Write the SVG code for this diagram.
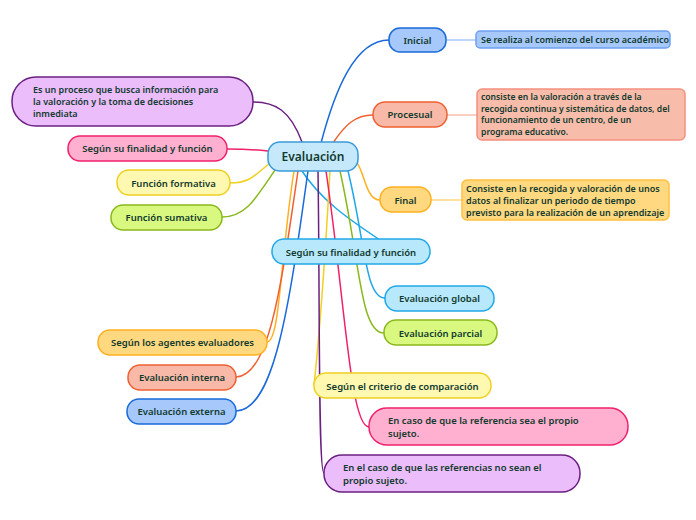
<svg xmlns="http://www.w3.org/2000/svg" width="696" height="520" viewBox="0 0 696 520">
<style>
text{font-family:"Noto Sans","Open Sans",sans-serif;font-size:9.5px;font-weight:600;fill:#113a2e}
.c{text-anchor:middle}
path{fill:none;stroke-width:1.5}
.n rect{stroke-width:1.5}
.blue{fill:#a6c8fb;stroke:#1a6ad9}
.org{fill:#f8b9a8;stroke:#f06030}
.yel{fill:#ffd880;stroke:#ffb020}
.pur{fill:#ebbdfb;stroke:#6a2080}
.pink{fill:#ffb0d0;stroke:#f0206a}
.lyel{fill:#fff8b0;stroke:#f0d020}
.grn{fill:#d8f880;stroke:#8ab81c}
.cy{fill:#b8e8fb;stroke:#20a8e8}
</style>
<g id="connectors">
<path d="M321,143 C335,90 355,40 389,40" stroke="#1a6ad9"/>
<path d="M446,40 H476" stroke="#a6c8fb" stroke-width="3"/>
<path d="M333,143 C345,125 355,115 373,115" stroke="#f06030"/>
<path d="M447,115 H477" stroke="#f8c0b0" stroke-width="3"/>
<path d="M355,160 C365,170 365,200 380,200" stroke="#ffb020"/>
<path d="M431,200 H462" stroke="#ffd880" stroke-width="3"/>
<path d="M302,142 C290,110 275,102 253,102" stroke="#6a2080"/>
<path d="M268,151 C250,149 240,149 227,149" stroke="#f0206a"/>
<path d="M270,163 C255,175 250,183 230,183" stroke="#f0d020"/>
<path d="M275,170 C255,200 245,217 222,217" stroke="#8ab81c"/>
<path d="M300,168 C320,200 350,220 380,240" stroke="#20a8e8"/>
<path d="M348,171 C365,240 365,298 385,298" stroke="#20a8e8"/>
<path d="M340,171 C360,260 360,333 384,333" stroke="#8ab81c"/>
<path d="M294,171 C280,260 280,342 267,342" stroke="#ffb020"/>
<path d="M298,171 C282,280 270,377 236,377" stroke="#f06030"/>
<path d="M308,171 C290,300 275,411 236,411" stroke="#1a6ad9"/>
<path d="M330,171 C325,260 320,330 314,385" stroke="#f0d020"/>
<path d="M326,171 C345,300 350,427 369,427" stroke="#f0206a"/>
<path d="M318,171 C320,300 318,473 324,473" stroke="#6a2080"/>
</g>
<g id="evaluacion" class="n"><rect x="268" y="142" width="90" height="29" rx="12" fill="#c5e9fb" stroke="#3a9ad9"/><text x="313" y="161" class="c" style="font-size:12px">Evaluación</text></g>
<g id="inicial" class="n"><rect x="389" y="28" width="57" height="24" rx="11" class="blue"/><text x="417.5" y="44" class="c">Inicial</text></g>
<g id="inicial-d" class="n"><rect x="476" y="31" width="194" height="17" rx="4" fill="#a6c8fb" stroke="#6fa0f0" stroke-width="1"/><text x="481" y="43" style="font-size:9px">Se realiza al comienzo del curso académico</text></g>
<g id="procesual" class="n"><rect x="373" y="102" width="74" height="25" rx="12" class="org"/><text x="410" y="118" class="c">Procesual</text></g>
<g id="procesual-d" class="n"><rect x="477" y="89" width="208" height="51" rx="5" fill="#f8bcaa" stroke="#f59080" stroke-width="1"/><text style="font-size:8.6px"><tspan x="481" y="100">consiste en la valoración a través de la</tspan><tspan x="481" y="111.5">recogida continua y sistemática de datos, del</tspan><tspan x="481" y="123">funcionamiento de un centro, de un</tspan><tspan x="481" y="134.5">programa educativo.</tspan></text></g>
<g id="final" class="n"><rect x="380" y="187" width="51" height="25" rx="12" class="yel"/><text x="405.5" y="204" class="c">Final</text></g>
<g id="final-d" class="n"><rect x="462" y="180" width="207" height="40" rx="5" fill="#ffd880" stroke="#ffc040" stroke-width="1"/><text style="font-size:9px"><tspan x="466" y="192">Consiste en la recogida y valoración de unos</tspan><tspan x="466" y="204">datos al finalizar un periodo de tiempo</tspan><tspan x="466" y="216">previsto para la realización de un aprendizaje</tspan></text></g>
<g id="proceso" class="n"><rect x="12" y="77" width="241" height="49" rx="24" class="pur"/><text style="font-size:9px"><tspan x="33" y="93">Es un proceso que busca información para</tspan><tspan x="33" y="105">la valoración y la toma de decisiones</tspan><tspan x="33" y="117">inmediata</tspan></text></g>
<g id="finalidad1" class="n"><rect x="68" y="136" width="159" height="25" rx="12" class="pink"/><text x="147.5" y="152" class="c">Según su finalidad y función</text></g>
<g id="formativa" class="n"><rect x="117" y="170" width="113" height="25" rx="12" class="lyel"/><text x="173.5" y="187" class="c">Función formativa</text></g>
<g id="sumativa" class="n"><rect x="111" y="205" width="111" height="25" rx="12" class="grn"/><text x="166.5" y="221" class="c">Función sumativa</text></g>
<g id="finalidad2" class="n"><rect x="272" y="239" width="158" height="25" rx="12" class="cy"/><text x="351" y="256" class="c">Según su finalidad y función</text></g>
<g id="global" class="n"><rect x="385" y="286" width="109" height="25" rx="12" class="cy"/><text x="439.5" y="302" class="c">Evaluación global</text></g>
<g id="parcial" class="n"><rect x="384" y="320" width="113" height="25" rx="12" class="grn"/><text x="440.5" y="337" class="c">Evaluación parcial</text></g>
<g id="agentes" class="n"><rect x="98" y="330" width="169" height="25" rx="12" class="yel"/><text x="182.5" y="346" class="c">Según los agentes evaluadores</text></g>
<g id="interna" class="n"><rect x="128" y="365" width="108" height="25" rx="12" class="org"/><text x="182" y="381" class="c">Evaluación interna</text></g>
<g id="externa" class="n"><rect x="127" y="399" width="109" height="25" rx="12" class="blue"/><text x="181.5" y="415" class="c">Evaluación externa</text></g>
<g id="criterio" class="n"><rect x="314" y="373" width="177" height="25" rx="12" class="lyel"/><text x="402.5" y="390" class="c">Según el criterio de comparación</text></g>
<g id="propio" class="n"><rect x="369" y="408" width="259" height="37" rx="18" class="pink"/><text><tspan x="388" y="424">En caso de que la referencia sea el propio</tspan><tspan x="388" y="437">sujeto.</tspan></text></g>
<g id="noprop" class="n"><rect x="324" y="455" width="256" height="37" rx="18" class="pur"/><text><tspan x="343" y="471">En el caso de que las referencias no sean el</tspan><tspan x="343" y="484">propio sujeto.</tspan></text></g>
</svg>
